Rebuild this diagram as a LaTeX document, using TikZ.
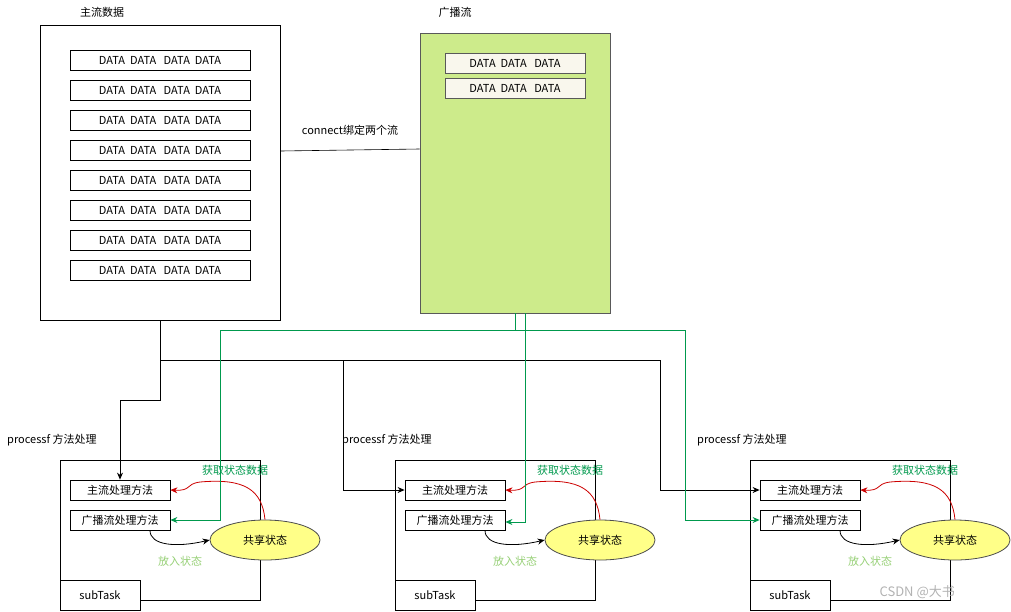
\documentclass[tikz,border=0pt]{standalone}
\usepackage{fontspec}
\setmainfont{Liberation Sans}
\newfontfamily\cjk{Noto Sans CJK SC}
\usetikzlibrary{arrows.meta,shapes.geometric}
\definecolor{gr}{RGB}{0,153,77}
\definecolor{lgr}{RGB}{151,208,119}
\definecolor{rd}{RGB}{204,0,0}
\definecolor{bfill}{RGB}{205,235,139}
\definecolor{rfill}{RGB}{249,247,237}
\definecolor{yel}{RGB}{255,255,136}
\tikzset{
 every node/.style={font=\cjk\fontsize{11}{13}\selectfont},
 box/.style={draw,line width=0.8pt,minimum width=180pt,minimum height=20pt,inner sep=0pt},
 bbox/.style={draw=gray!70!black,line width=0.8pt,fill=rfill,minimum width=140pt,minimum height=20pt,inner sep=0pt},
 mbox/.style={draw,line width=0.8pt,minimum width=100pt,minimum height=20pt,inner sep=0pt},
 lbl/.style={inner sep=0pt},
 ar/.style={-{Stealth[length=7pt,width=6pt]},line width=0.8pt},
}
\begin{document}
\begin{tikzpicture}[x=1pt,y=-1pt]
\useasboundingbox (0,0) rectangle (1011,611);
% main stream
\node[lbl] at (102,12) {主流数据};
\node[draw,line width=0.8pt,minimum width=240pt,minimum height=295pt,inner sep=0pt] (main) at (160,172.5) {};
\foreach \i in {0,...,7}{
 \node[box] (d\i) at (160,60+30*\i) {DATA\ \ DATA\ \ \ DATA\ \ DATA};
}
% broadcast
\node[lbl] at (455,12) {广播流};
\node[draw=gray!70!black,line width=0.8pt,fill=bfill,minimum width=190pt,minimum height=280pt,inner sep=0pt] (bc) at (515,173) {};
\node[bbox] (b0) at (515,63) {DATA\ \ DATA\ \ \ DATA};
\node[bbox] (b1) at (515,88) {DATA\ \ DATA\ \ \ DATA};
\draw[line width=0.6pt] (main.east |- 0,151) -- (bc.west |- 0,149);
\node[lbl] at (350,130) {connect绑定两个流};
% tasks
\foreach \o/\n in {0/A,335/B,690/C}{
 \begin{scope}[xshift=\o]
 \node[lbl,anchor=west] at (7,440) {processf 方法处理};
 \draw[line width=0.8pt] (140,600) -- (260,600) -- (260,460) -- (60,460) -- (60,580);
 \node[mbox] (m\n) at (120,490) {主流处理方法};
 \node[mbox] (g\n) at (120,520) {广播流处理方法};
 \node[draw=gray!60!black,line width=0.8pt,fill=yel,ellipse,minimum width=110pt,minimum height=40pt,inner sep=0pt] (e\n) at (265,540) {共享状态};
 \node[draw,line width=0.8pt,fill=white,minimum width=80pt,minimum height=30pt,inner sep=0pt] (s\n) at (100,595) {subTask};
 \node[lbl,text=gr] at (235,470) {获取状态数据};
 \node[lbl,text=lgr] at (180,561) {放入状态};
 \draw[ar,rd] (e\n.north) .. controls (262,490) and (245,478) .. (200,482) .. controls (185,484) and (192,491) .. (m\n.east);
 \draw[ar] ([xshift=30]g\n.south) .. controls (150,545) and (175,548) .. (e\n.west);
 \end{scope}
}
% black connectors
\draw[line width=0.8pt] (main.south) -- (160,360) -- (660,360);
\draw[ar] (160,360) -- (160,400) -- (120,400) -- (mA.north);
\draw[ar] (343,360) -- (343,490) -- (mB.west);
\draw[ar] (660,360) -- (660,490) -- (mC.west);
% green connectors
\draw[gr,line width=0.8pt] (515,313) -- (515,330);
\draw[ar,gr] (685,330) -- (220,330) -- (220,520) -- (gA.east);
\draw[ar,gr] (685,330) -- (685,520) -- (gC.west);
\draw[ar,gr] (525,313) -- (525,522) -- ([yshift=-2]gB.east);
% watermark
\node[lbl,text=gray!60,anchor=east] at (955,592) {\fontsize{13}{15}\selectfont CSDN @大书};
\end{tikzpicture}
\end{document}
